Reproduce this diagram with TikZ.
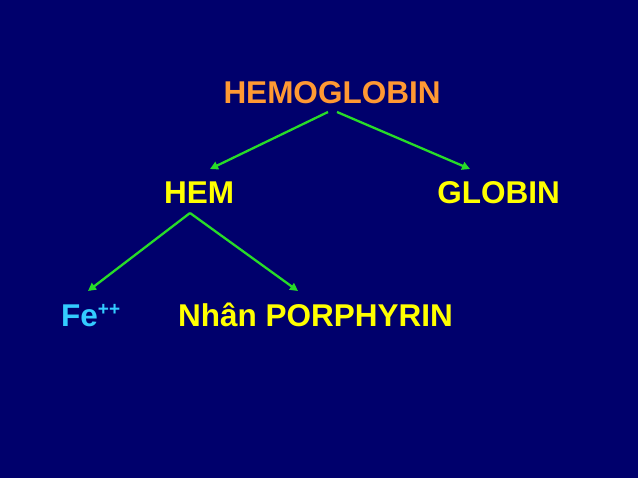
\documentclass[tikz,border=0pt]{standalone}
\usepackage{fontspec}
\setmainfont{Liberation Sans}
\usetikzlibrary{arrows.meta}
\definecolor{bg}{RGB}{0,0,108}
\definecolor{orng}{RGB}{255,153,51}
\definecolor{yel}{RGB}{255,255,0}
\definecolor{cyn}{RGB}{51,204,255}
\definecolor{grn}{RGB}{40,220,40}
\begin{document}
\begin{tikzpicture}[x=1pt,y=-1pt,
  lbl/.style={inner sep=0pt,font=\fontsize{31.5}{38}\selectfont\bfseries},
  arr/.style={draw=grn,line width=2.3pt,-{Triangle[length=8pt,width=8pt]}}]
\fill[bg] (0,0) rectangle (638,478);
\useasboundingbox (0,0) rectangle (638,478);
\node[lbl,text=orng,anchor=base] (hemo) at (332,104) {HEMOGLOBIN};
\node[lbl,text=yel,anchor=base west] (hem) at (164,204) {HEM};
\node[lbl,text=yel,anchor=base east] (glob) at (560,204) {GLOBIN};
\node[lbl,text=cyn,anchor=base west] (fe) at (61,327) {Fe\raisebox{11pt}{\fontsize{19}{22}\selectfont ++}};
\node[lbl,text=yel,anchor=base west] (nhan) at (178,327) {Nhân PORPHYRIN};
\coordinate (a1) at (328,112);
\coordinate (a2) at (337,112);
\coordinate (b1) at (210,169);
\coordinate (b2) at (470,169);
\coordinate (c0) at (190,213);
\coordinate (d1) at (88,291);
\coordinate (d2) at (298,291);
\draw[arr] (a1) -- (b1);
\draw[arr] (a2) -- (b2);
\draw[arr] (c0) -- (d1);
\draw[arr] (c0) -- (d2);
\end{tikzpicture}
\end{document}
